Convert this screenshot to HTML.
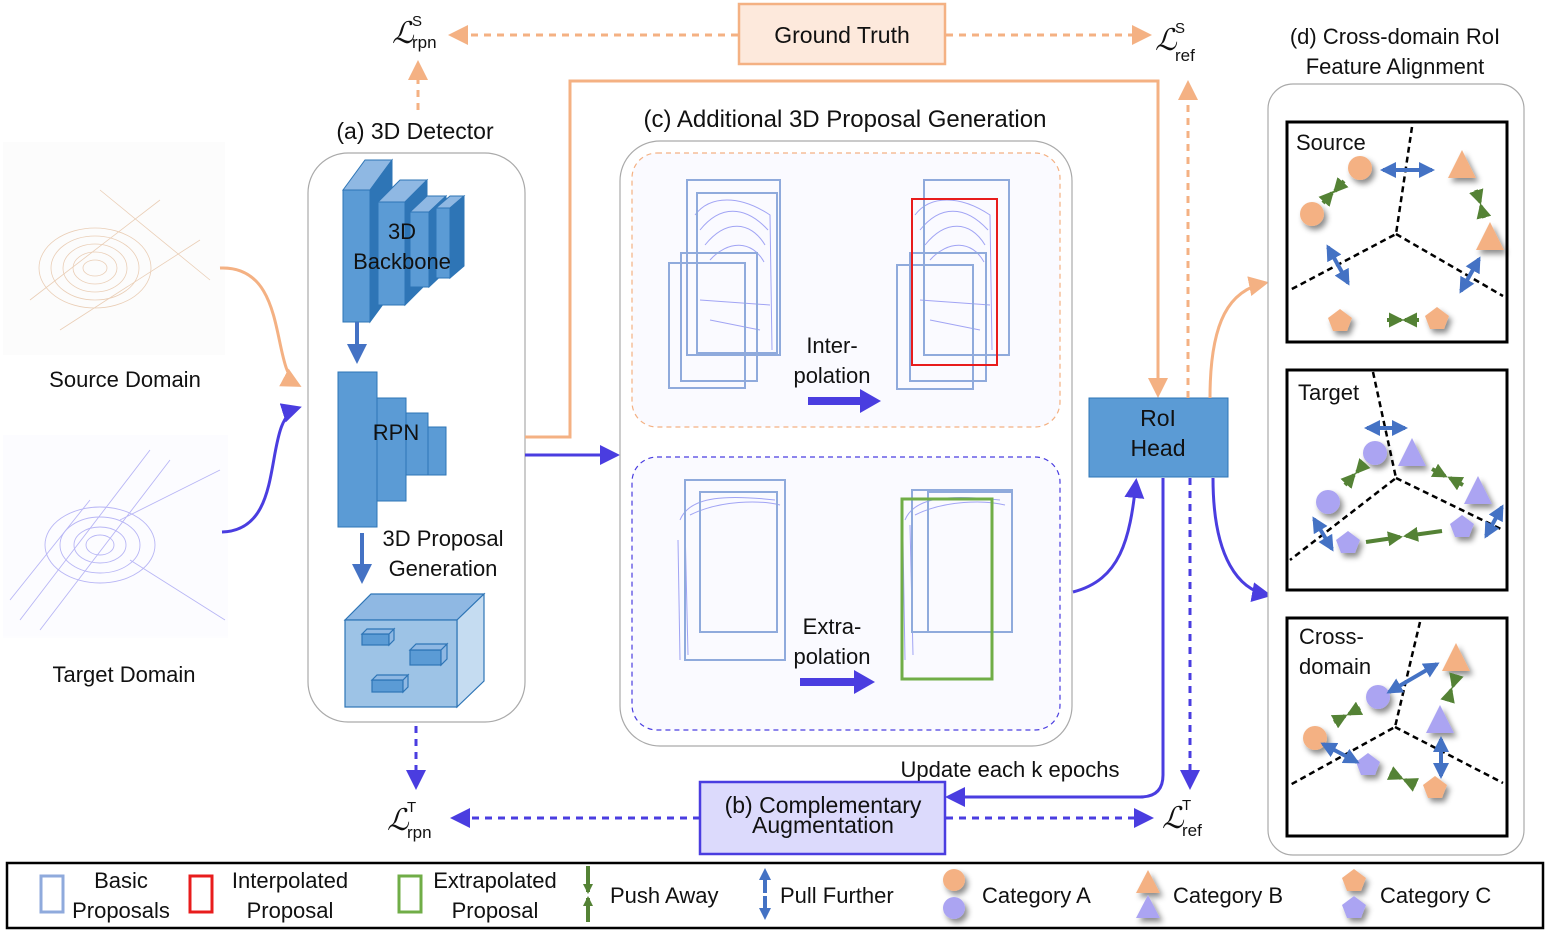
<!DOCTYPE html>
<html><head><meta charset="utf-8"><style>
html,body{margin:0;padding:0;background:#fff}
svg{display:block}
text{font-family:"Liberation Sans",sans-serif;fill:#111}
.n{font-family:"Liberation Sans Narrow","Liberation Sans",sans-serif}
.L{font-family:"DejaVu Serif","Liberation Serif",serif;font-style:italic}
</style></head><body>
<svg width="1547" height="932" viewBox="0 0 1547 932" xmlns="http://www.w3.org/2000/svg">
<defs>
<marker id="aoB" markerWidth="20" markerHeight="20" refX="16" refY="10" orient="auto" markerUnits="userSpaceOnUse"><path d="M0,0 L20,10 L0,20z" fill="#f4b183"/></marker>
<marker id="abB" markerWidth="20" markerHeight="20" refX="16" refY="10" orient="auto" markerUnits="userSpaceOnUse"><path d="M0,0 L20,10 L0,20z" fill="#4a3de0"/></marker>
<marker id="asB" markerWidth="20" markerHeight="20" refX="16" refY="10" orient="auto" markerUnits="userSpaceOnUse"><path d="M0,0 L20,10 L0,20z" fill="#4472c4"/></marker>
<marker id="pb" markerWidth="16" markerHeight="16" refX="13" refY="8" orient="auto-start-reverse" markerUnits="userSpaceOnUse"><path d="M0,0 L16,8 L0,16z" fill="#4472c4"/></marker>
<marker id="pg" markerWidth="15" markerHeight="15" refX="12" refY="7.5" orient="auto" markerUnits="userSpaceOnUse"><path d="M0,0 L15,7.5 L0,15z" fill="#548235"/></marker>
<filter id="sh" x="-50%" y="-50%" width="200%" height="200%"><feDropShadow dx="3" dy="4" stdDeviation="3" flood-color="#000" flood-opacity="0.45"/></filter>
</defs>

<g opacity="0.55" fill="none" stroke="#d9a77c" stroke-width="0.8">
<rect x="3" y="142" width="222" height="213" fill="#fbfbfb" stroke="none"/>
<ellipse cx="95" cy="268" rx="12" ry="8"/><ellipse cx="95" cy="268" rx="22" ry="16"/><ellipse cx="95" cy="268" rx="32" ry="24"/><ellipse cx="95" cy="268" rx="44" ry="32"/><ellipse cx="95" cy="268" rx="56" ry="40"/>
<path d="M30,300 L160,200 M60,330 L200,240 M100,190 L210,280"/>
</g>
<g opacity="0.6" fill="none" stroke="#8a86f0" stroke-width="0.9">
<rect x="3" y="435" width="225" height="203" fill="#fbfbff" stroke="none"/>
<ellipse cx="100" cy="545" rx="14" ry="10"/><ellipse cx="100" cy="545" rx="26" ry="18"/><ellipse cx="100" cy="545" rx="40" ry="28"/><ellipse cx="100" cy="545" rx="55" ry="38"/>
<path d="M20,620 L150,450 M40,630 L170,460 M120,520 L220,470 M130,560 L225,620 M10,600 L90,500"/>
</g>
<text x="125" y="387" font-size="22" text-anchor="middle" class="n">Source Domain</text>
<text x="124" y="682" font-size="22" text-anchor="middle" class="n">Target Domain</text>
<path d="M220,268 C290,265 270,370 298,385" fill="none" stroke="#f4b183" stroke-width="3" marker-end="url(#aoB)"/>
<path d="M222,532 C290,530 260,420 298,408" fill="none" stroke="#4a3de0" stroke-width="3" marker-end="url(#abB)"/>

<rect x="739" y="4" width="206" height="60" fill="#fde9dc" stroke="#f4b183" stroke-width="2.5"/>
<text x="842" y="43" font-size="23" text-anchor="middle">Ground Truth</text>
<path d="M738,35 L452,35" stroke="#f4b183" stroke-width="3" stroke-dasharray="7,6" marker-end="url(#aoB)"/>
<path d="M946,35 L1148,35" stroke="#f4b183" stroke-width="3" stroke-dasharray="7,6" marker-end="url(#aoB)"/>
<text x="392" y="43" font-size="30" class="L">ℒ</text><text x="412" y="26" font-size="15">S</text><text x="412" y="48" font-size="17">rpn</text>
<text x="1155" y="50" font-size="30" class="L">ℒ</text><text x="1175" y="33" font-size="15">S</text><text x="1175" y="61" font-size="17">ref</text>
<path d="M418,110 L418,64" stroke="#f4b183" stroke-width="3" stroke-dasharray="7,6" marker-end="url(#aoB)"/>

<text x="415" y="139" font-size="23" text-anchor="middle">(a) 3D  Detector</text>
<rect x="308" y="153" width="217" height="569" rx="40" fill="#fff" stroke="#aaa" stroke-width="1.2"/>
<g stroke="#2e75b6" stroke-width="1" fill="#5b9bd5">
<path d="M343,190 L365,160 L392,160 L370,190z" fill="#8fb8e3"/><path d="M370,190 L392,160 L392,292 L370,322z" fill="#2e75b6"/><rect x="343" y="190" width="27" height="132"/>
<path d="M378,202 L400,180 L427,180 L405,202z" fill="#8fb8e3"/><path d="M405,202 L427,180 L427,283 L405,305z" fill="#2e75b6"/><rect x="378" y="202" width="27" height="103"/>
<path d="M410,212 L427,196 L446,196 L429,212z" fill="#8fb8e3"/><path d="M429,212 L446,196 L446,271 L429,287z" fill="#2e75b6"/><rect x="410" y="212" width="19" height="75"/>
<path d="M436,208 L450,196 L464,196 L450,208z" fill="#8fb8e3"/><path d="M450,208 L464,196 L464,266 L450,278z" fill="#2e75b6"/><rect x="436" y="208" width="14" height="70"/>
<rect x="338" y="372" width="39" height="155"/><rect x="377" y="398" width="29" height="103"/><rect x="406" y="413" width="22" height="62"/><rect x="428" y="427" width="18" height="48"/>
</g>
<text x="402" y="239" font-size="22" text-anchor="middle">3D</text><text x="402" y="269" font-size="22" text-anchor="middle">Backbone</text>
<text x="396" y="440" font-size="22" text-anchor="middle">RPN</text>
<path d="M357,322 L357,360" stroke="#4472c4" stroke-width="4" marker-end="url(#asB)"/>
<path d="M362,533 L362,580" stroke="#4472c4" stroke-width="4" marker-end="url(#asB)"/>
<text x="443" y="546" font-size="22" text-anchor="middle" class="n">3D Proposal</text><text x="443" y="576" font-size="22" text-anchor="middle" class="n">Generation</text>
<g stroke="#2e75b6" stroke-width="1.2">
<path d="M345,620 L371,594 L484,594 L457,620z" fill="#8fb8e3"/><path d="M457,620 L484,594 L484,681 L457,707z" fill="#c5dcf1"/><rect x="345" y="620" width="112" height="87" fill="#9dc3e6"/>
<g fill="#5b9bd5"><rect x="362" y="634" width="27" height="11"/><path d="M362,634 L367,629 L394,629 L389,634z M389,634 L394,629 L394,640 L389,645z" fill="#8fb8e3"/>
<rect x="410" y="650" width="31" height="15"/><path d="M410,650 L416,644 L447,644 L441,650z M441,650 L447,644 L447,659 L441,665z" fill="#8fb8e3"/>
<rect x="372" y="680" width="31" height="12"/><path d="M372,680 L377,675 L408,675 L403,680z M403,680 L408,675 L408,687 L403,692z" fill="#8fb8e3"/></g>
</g>

<path d="M525,437 L570,437 L570,81 L1158,81 L1158,394" fill="none" stroke="#f4b183" stroke-width="3" marker-end="url(#aoB)"/>
<path d="M525,455 L616,455" stroke="#4a3de0" stroke-width="3" marker-end="url(#abB)"/>
<path d="M416,726 L416,786" stroke="#4a3de0" stroke-width="3" stroke-dasharray="7,6" marker-end="url(#abB)"/>
<text x="387" y="830" font-size="30" class="L">ℒ</text><text x="407" y="812" font-size="15">T</text><text x="407" y="838" font-size="17">rpn</text>

<text x="845" y="127" font-size="24" text-anchor="middle">(c) Additional 3D Proposal Generation</text>
<rect x="620" y="141" width="452" height="605" rx="40" fill="#fff" stroke="#aaa" stroke-width="1.2"/>
<rect x="632" y="153" width="428" height="274" rx="25" fill="#fafaff" stroke="#f4b183" stroke-width="1.2" stroke-dasharray="5,4"/>
<rect x="632" y="457" width="428" height="273" rx="25" fill="#fafaff" stroke="#4a3de0" stroke-width="1.2" stroke-dasharray="5,4"/>
<g fill="none" stroke="#7b7ff0" stroke-width="1" opacity="0.7">
<path d="M695,215 C710,195 740,195 770,215 L772,350 M700,230 C720,205 745,205 768,230 M705,245 C725,220 750,220 765,245 M710,260 C728,240 752,240 764,262 M700,300 L770,305 M710,320 L760,330"/>
<path d="M915,215 C930,195 960,195 990,215 L992,350 M920,230 C940,205 965,205 988,230 M925,245 C945,220 970,220 985,245 M930,260 C948,240 972,240 984,262 M920,300 L990,305 M930,320 L980,330"/>
<path d="M680,520 C690,495 730,495 775,500 M678,540 L680,660 M685,525 L688,655 M690,515 C720,500 760,500 780,505"/>
<path d="M905,520 C915,495 955,495 1000,500 M903,540 L905,660 M910,525 L913,655 M915,515 C945,500 985,500 1005,505"/>
</g>
<g fill="none" stroke="#8faadc" stroke-width="2">
<rect x="687" y="180" width="93" height="175"/><rect x="697" y="193" width="80" height="160"/><rect x="669" y="263" width="76" height="125"/><rect x="681" y="253" width="76" height="128"/>
<rect x="924" y="180" width="85" height="175"/><rect x="912" y="199" width="85" height="166"/><rect x="897" y="265" width="76" height="124"/><rect x="910" y="253" width="76" height="128"/>
<rect x="685" y="480" width="100" height="180"/><rect x="700" y="492" width="77" height="140"/>
<rect x="912" y="490" width="100" height="142"/><rect x="928" y="492" width="84" height="140"/>
</g>
<rect x="912" y="199" width="85" height="166" fill="none" stroke="#e81c1c" stroke-width="2"/>
<rect x="902" y="499" width="90" height="180" fill="none" stroke="#70ad47" stroke-width="3"/>
<text x="832" y="353" font-size="22" text-anchor="middle" class="n">Inter-</text><text x="832" y="383" font-size="22" text-anchor="middle" class="n">polation</text>
<path d="M808,401 L862,401" stroke="#4a3de0" stroke-width="8"/><path d="M860,389 L881,401 L860,413z" fill="#4a3de0"/>
<text x="832" y="634" font-size="22" text-anchor="middle" class="n">Extra-</text><text x="832" y="664" font-size="22" text-anchor="middle" class="n">polation</text>
<path d="M800,682 L856,682" stroke="#4a3de0" stroke-width="8"/><path d="M854,670 L875,682 L854,694z" fill="#4a3de0"/>

<rect x="1089" y="398" width="139" height="79" fill="#5b9bd5" stroke="#2e75b6"/>
<text x="1158" y="426" font-size="23" text-anchor="middle">RoI</text><text x="1158" y="456" font-size="23" text-anchor="middle">Head</text>
<path d="M1073,592 C1120,580 1130,540 1136,482" fill="none" stroke="#4a3de0" stroke-width="3" marker-end="url(#abB)"/>
<path d="M1188,398 L1188,84" stroke="#f4b183" stroke-width="3" stroke-dasharray="7,6" marker-end="url(#aoB)"/>
<path d="M1210,398 C1210,320 1230,290 1265,283" fill="none" stroke="#f4b183" stroke-width="3" marker-end="url(#aoB)"/>
<path d="M1213,478 C1213,560 1240,590 1268,595" fill="none" stroke="#4a3de0" stroke-width="3" marker-end="url(#abB)"/>
<path d="M1163,478 L1163,775 Q1163,797 1140,797 L949,797" fill="none" stroke="#4a3de0" stroke-width="3" marker-end="url(#abB)"/>
<text x="1010" y="777" font-size="22" text-anchor="middle" class="n">Update each k  epochs</text>
<path d="M1190,478 L1190,786" stroke="#4a3de0" stroke-width="3" stroke-dasharray="7,6" marker-end="url(#abB)"/>
<text x="1162" y="828" font-size="30" class="L">ℒ</text><text x="1182" y="810" font-size="15">T</text><text x="1182" y="836" font-size="17">ref</text>

<rect x="700" y="782" width="245" height="72" fill="#dcdafc" stroke="#4a3de0" stroke-width="2.5"/>
<text x="823" y="813" font-size="23" text-anchor="middle">(b) Complementary</text><text x="823" y="833" font-size="23" text-anchor="middle">Augmentation</text>
<path d="M700,818 L454,818" stroke="#4a3de0" stroke-width="3" stroke-dasharray="7,6" marker-end="url(#abB)"/>
<path d="M946,818 L1150,818" stroke="#4a3de0" stroke-width="3" stroke-dasharray="7,6" marker-end="url(#abB)"/>

<text x="1395" y="44" font-size="22" text-anchor="middle">(d) Cross-domain RoI</text><text x="1395" y="74" font-size="22" text-anchor="middle">Feature Alignment</text>
<rect x="1268" y="84" width="256" height="771" rx="25" fill="#fff" stroke="#aaa" stroke-width="1.2"/>
<g fill="#fff" stroke="#000" stroke-width="3"><rect x="1287" y="122" width="220" height="220"/><rect x="1287" y="370" width="220" height="220"/><rect x="1287" y="618" width="220" height="218"/></g>
<text x="1296" y="150" font-size="22" class="n">Source</text>
<text x="1298" y="400" font-size="22" class="n">Target</text>
<text x="1299" y="644" font-size="22" class="n">Cross-</text><text x="1299" y="674" font-size="22" class="n">domain</text>
<g stroke="#000" stroke-width="2.5" stroke-dasharray="6,4" fill="none">
<path d="M1412,127 L1396,234 L1290,290 M1396,234 L1503,296"/>
<path d="M1373,372 L1396,478 L1290,560 M1396,478 L1503,530"/>
<path d="M1420,622 L1395,727 L1290,785 M1395,727 L1503,783"/>
</g>
<g filter="url(#sh)">
<g fill="#f4b183"><circle cx="1360" cy="168" r="12"/><circle cx="1312" cy="214" r="12"/><path d="M1462,150 L1476,178 L1448,178z M1490,222 L1504,250 L1476,250z"/><path d="M1340,309 L1352,318 L1347,331 L1333,331 L1328,318z M1437,307 L1449,316 L1444,329 L1430,329 L1425,316z"/>
<circle cx="1315" cy="738" r="12"/><path d="M1456,643 L1470,671 L1442,671z"/><path d="M1435,776 L1447,785 L1442,798 L1428,798 L1423,785z"/></g>
<g fill="#aba4f2"><circle cx="1375" cy="453" r="12"/><circle cx="1328" cy="502" r="12"/><path d="M1412,438 L1426,466 L1398,466z M1478,476 L1492,504 L1464,504z"/><path d="M1348,531 L1360,540 L1355,553 L1341,553 L1336,540z M1462,515 L1474,524 L1469,537 L1455,537 L1450,524z"/>
<circle cx="1378" cy="697" r="12"/><path d="M1440,705 L1454,733 L1426,733z"/><path d="M1368,753 L1380,762 L1375,775 L1361,775 L1356,762z"/></g>
</g>
<g stroke="#4472c4" stroke-width="4" marker-start="url(#pb)" marker-end="url(#pb)">
<line x1="1383" y1="170" x2="1432" y2="170"/><line x1="1328" y1="247" x2="1348" y2="283"/><line x1="1479" y1="259" x2="1461" y2="291"/>
<line x1="1367" y1="428" x2="1405" y2="428"/><line x1="1314" y1="519" x2="1332" y2="549"/><line x1="1502" y1="507" x2="1486" y2="536"/>
<line x1="1389" y1="692" x2="1437" y2="664"/><line x1="1323" y1="744" x2="1357" y2="762"/><line x1="1441" y1="739" x2="1441" y2="776"/>
</g>
<g stroke="#548235" stroke-width="4" marker-end="url(#pg)">
<line x1="1323" y1="203" x2="1332" y2="193"/><line x1="1344" y1="181" x2="1335" y2="191"/>
<line x1="1476" y1="190" x2="1480" y2="202"/><line x1="1484" y1="218" x2="1481" y2="206"/>
<line x1="1387" y1="320" x2="1401" y2="320"/><line x1="1419" y1="320" x2="1405" y2="320"/>
<line x1="1345" y1="485" x2="1354" y2="475"/><line x1="1365" y1="463" x2="1357" y2="472"/>
<line x1="1432" y1="469" x2="1445" y2="476"/><line x1="1463" y1="485" x2="1450" y2="478"/>
<line x1="1366" y1="542" x2="1400" y2="537"/><line x1="1442" y1="531" x2="1406" y2="536"/>
<line x1="1334" y1="722" x2="1345" y2="716"/><line x1="1360" y1="708" x2="1349" y2="714"/>
<line x1="1448" y1="700" x2="1451" y2="690"/><line x1="1456" y1="676" x2="1453" y2="686"/>
<line x1="1390" y1="773" x2="1401" y2="778"/><line x1="1416" y1="785" x2="1405" y2="780"/>
</g>

<rect x="7" y="863" width="1536" height="65" fill="#fff" stroke="#000" stroke-width="2.5"/>
<rect x="41" y="876" width="22" height="36" fill="none" stroke="#8faadc" stroke-width="3"/>
<rect x="190" y="876" width="22" height="36" fill="none" stroke="#e81c1c" stroke-width="3"/>
<rect x="399" y="876" width="22" height="36" fill="none" stroke="#70ad47" stroke-width="3"/>
<g class="n" font-size="22" text-anchor="middle">
<text x="121" y="888">Basic</text><text x="121" y="918">Proposals</text>
<text x="290" y="888">Interpolated</text><text x="290" y="918">Proposal</text>
<text x="495" y="888">Extrapolated</text><text x="495" y="918">Proposal</text>
</g>
<g stroke="#548235" stroke-width="4"><line x1="588" y1="866" x2="588" y2="892"/><line x1="588" y1="922" x2="588" y2="898"/></g>
<path d="M583,884 L588,894 L593,884z M583,906 L588,896 L593,906z" fill="#548235"/>
<g stroke="#4472c4" stroke-width="4"><line x1="765" y1="876" x2="765" y2="893"/><line x1="765" y1="896" x2="765" y2="912"/></g>
<path d="M759,880 L765,868 L771,880z M759,908 L765,920 L771,908z" fill="#4472c4"/>
<g class="n" font-size="22"><text x="610" y="903">Push Away</text><text x="780" y="903">Pull Further</text><text x="982" y="903">Category A</text><text x="1173" y="903">Category B</text><text x="1380" y="903">Category C</text></g>
<g filter="url(#sh)">
<circle cx="954" cy="880" r="11" fill="#f4b183"/><circle cx="954" cy="908" r="11" fill="#aba4f2"/>
<path d="M1148,870 L1160,893 L1136,893z" fill="#f4b183"/><path d="M1148,895 L1160,918 L1136,918z" fill="#aba4f2"/>
<path d="M1354,869 L1366,878 L1361,891 L1347,891 L1342,878z" fill="#f4b183"/><path d="M1354,896 L1366,905 L1361,918 L1347,918 L1342,905z" fill="#aba4f2"/>
</g>
</svg>
</body></html>
